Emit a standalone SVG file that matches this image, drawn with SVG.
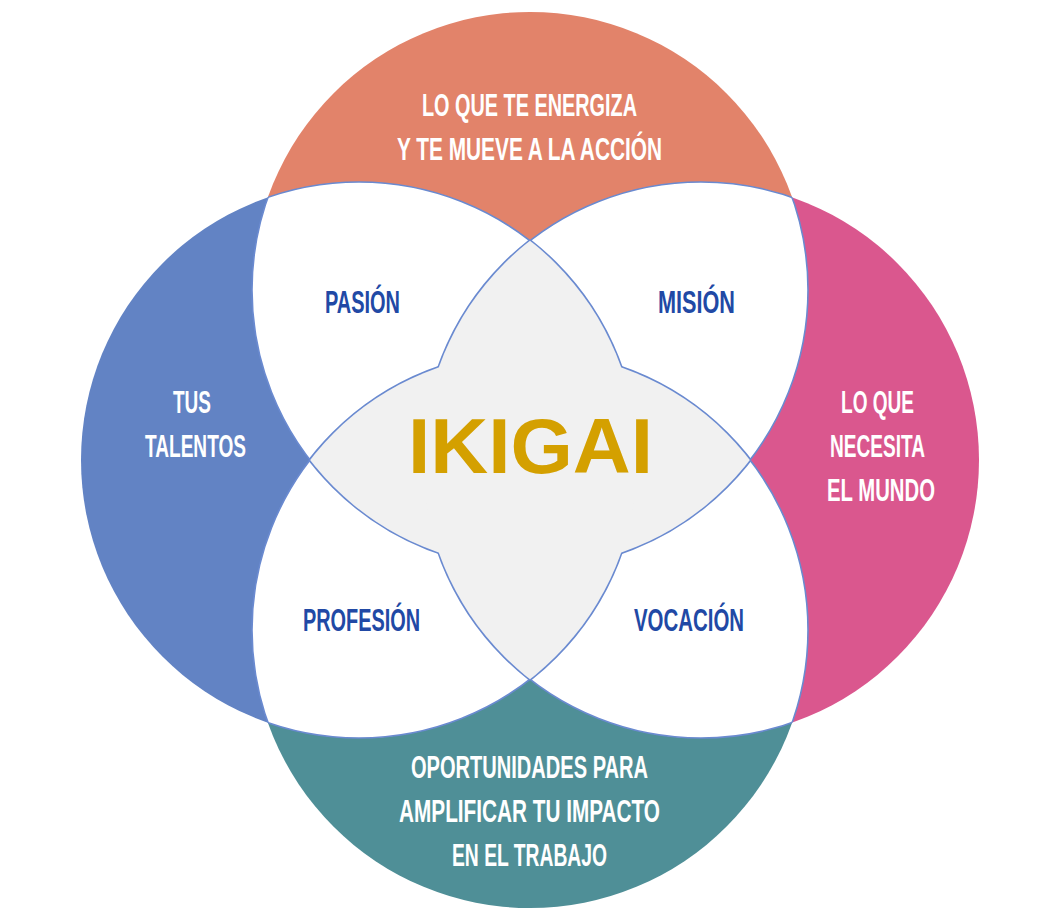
<svg xmlns="http://www.w3.org/2000/svg" width="1062" height="919" viewBox="0 0 1062 919">
<defs>
<style>
.w{fill:#fff;font-family:"Liberation Sans",Arial,sans-serif;font-size:32px;font-weight:bold;}
.b{fill:#2149A5;font-family:"Liberation Sans",Arial,sans-serif;font-size:32px;font-weight:bold;}
.ln{fill:none;stroke:#6A8AD0;stroke-width:1.6;}
.ln2{fill:none;stroke:#6A8AD0;stroke-width:3.2;}
.g{fill:#F1F1F1;}
</style>
<circle id="cT" cx="530" cy="290" r="278"/>
<circle id="cL" cx="359" cy="460" r="278"/>
<circle id="cR" cx="701" cy="460" r="278"/>
<circle id="cB" cx="530" cy="630" r="278"/>
<clipPath id="kT"><use href="#cT"/></clipPath>
<clipPath id="kL"><use href="#cL"/></clipPath>
<clipPath id="kR"><use href="#cR"/></clipPath>
<clipPath id="kB"><use href="#cB"/></clipPath>
<clipPath id="nT"><use href="#cL"/><use href="#cR"/><use href="#cB"/></clipPath>
<clipPath id="nL"><use href="#cT"/><use href="#cR"/><use href="#cB"/></clipPath>
<clipPath id="nR"><use href="#cT"/><use href="#cL"/><use href="#cB"/></clipPath>
<clipPath id="nB"><use href="#cT"/><use href="#cL"/><use href="#cR"/></clipPath>
</defs>
<rect width="1062" height="919" fill="#fff"/>
<g id="circles">
<use href="#cT" fill="#E2836A"/>
<use href="#cL" fill="#6283C4"/>
<use href="#cR" fill="#DA578E"/>
<use href="#cB" fill="#4F8F97"/>
</g>
<g id="overlaps">
<use href="#cT" fill="#fff" clip-path="url(#nT)"/>
<use href="#cB" fill="#fff" clip-path="url(#nB)"/>
</g>
<g id="connectors">
<use href="#cT" class="ln" clip-path="url(#nT)"/>
<use href="#cL" class="ln" clip-path="url(#nL)"/>
<use href="#cR" class="ln" clip-path="url(#nR)"/>
<use href="#cB" class="ln" clip-path="url(#nB)"/>
<use href="#cT" class="ln2" clip-path="url(#kB)"/>
<use href="#cB" class="ln2" clip-path="url(#kT)"/>
<use href="#cL" class="ln2" clip-path="url(#kR)"/>
<use href="#cR" class="ln2" clip-path="url(#kL)"/>
</g>
<g id="center">
<use href="#cT" class="g" clip-path="url(#kB)"/>
<use href="#cL" class="g" clip-path="url(#kR)"/>
</g>
<g id="top"><text class="w" x="422" y="116" textLength="215" lengthAdjust="spacingAndGlyphs">LO QUE TE ENERGIZA</text><text class="w" x="397" y="160" textLength="265" lengthAdjust="spacingAndGlyphs">Y TE MUEVE A LA ACCIÓN</text></g>
<g id="left"><text class="w" x="173" y="413" textLength="38" lengthAdjust="spacingAndGlyphs">TUS</text><text class="w" x="145" y="457" textLength="101" lengthAdjust="spacingAndGlyphs">TALENTOS</text></g>
<g id="right"><text class="w" x="841" y="413" textLength="73" lengthAdjust="spacingAndGlyphs">LO QUE</text><text class="w" x="830" y="457" textLength="95" lengthAdjust="spacingAndGlyphs">NECESITA</text><text class="w" x="827" y="501" textLength="108" lengthAdjust="spacingAndGlyphs">EL MUNDO</text></g>
<g id="bottom"><text class="w" x="411" y="778" textLength="237" lengthAdjust="spacingAndGlyphs">OPORTUNIDADES PARA</text><text class="w" x="399" y="822" textLength="261" lengthAdjust="spacingAndGlyphs">AMPLIFICAR TU IMPACTO</text><text class="w" x="452" y="866" textLength="155" lengthAdjust="spacingAndGlyphs">EN EL TRABAJO</text></g>
<g id="pasion"><text class="b" x="325" y="313" textLength="75" lengthAdjust="spacingAndGlyphs">PASIÓN</text></g>
<g id="mision"><text class="b" x="658" y="313" textLength="77" lengthAdjust="spacingAndGlyphs">MISIÓN</text></g>
<g id="profesion"><text class="b" x="303" y="631" textLength="117" lengthAdjust="spacingAndGlyphs">PROFESIÓN</text></g>
<g id="vocacion"><text class="b" x="634" y="631" textLength="110" lengthAdjust="spacingAndGlyphs">VOCACIÓN</text></g>
<g id="ikigai"><text x="408" y="473" fill="#D4A000" font-family="'Liberation Sans',Arial,sans-serif" font-size="78" font-weight="bold" textLength="245" lengthAdjust="spacingAndGlyphs">IKIGAI</text></g>
</svg>
